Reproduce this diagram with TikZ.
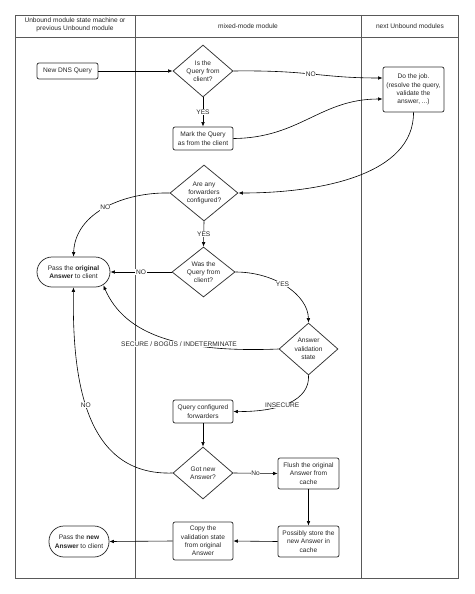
\documentclass[tikz,border=0pt]{standalone}
\usepackage{fontspec}
\setmainfont{Liberation Sans}
\usetikzlibrary{shapes.geometric,arrows.meta}
\begin{document}
\begin{tikzpicture}[x=1pt,y=-1pt,
  every node/.style={font=\fontsize{6.6}{8.3}\selectfont, text=black!85},
  frame/.style={draw=black!65, line width=0.9pt},
  box/.style={draw=black!80, line width=0.75pt, rounded corners=2pt, align=center, inner sep=1pt},
  stad/.style={draw=black!80, line width=0.75pt, rounded corners=15pt, align=center, inner sep=1pt},
  dia/.style={draw=black!80, line width=0.75pt, diamond, inner sep=0pt},
  dtext/.style={align=center, inner sep=0pt},
  conn/.style={draw=black, line width=0.6pt, -{Latex[length=4.5pt,width=3.6pt]}},
  lbl/.style={fill=white, inner sep=0.6pt}
]
\useasboundingbox (0,0) rectangle (474,594);
% frame
\draw[frame] (15,15) rectangle (458,578);
\draw[frame] (15,37) -- (458,37);
\draw[frame] (135,15) -- (135,578);
\draw[frame] (361,15) -- (361,578);
\node[align=center] (h1) at (75,25) {Unbound module state machine or\\previous Unbound module};
\node (h2) at (248,26) {mixed-mode module};
\node (h3) at (410,26) {next Unbound modules};

% nodes
\node[box, minimum width=61pt, minimum height=16pt] (newq) at (67.5,71) {New DNS Query};
\node[dia, minimum width=60pt, minimum height=52pt, label={[dtext]center:Is the\\Query from\\client?}] (d1) at (203,71) {};
\node[box, minimum width=60pt, minimum height=23pt] (mark) at (203,138.5) {Mark the Query\\as from the client};
\node[box, minimum width=61pt, minimum height=45pt] (job) at (413.5,89.5) {Do the job.\\(resolve the query,\\validate the\\answer, ...)};
\node[dia, minimum width=68pt, minimum height=56pt, label={[dtext]center:Are any\\forwarders\\configured?}] (d2) at (204,193) {};
\node[dia, minimum width=63pt, minimum height=50pt, label={[dtext]center:Was the\\Query from\\client?}] (d3) at (203.5,272) {};
\node[stad, minimum width=73pt, minimum height=30pt] (pass) at (73.5,272) {Pass the \textbf{original}\\\textbf{Answer} to client};
\node[dia, minimum width=59pt, minimum height=52pt, label={[dtext]center:Answer\\validation\\state}] (d4) at (308.5,349) {};
\node[box, minimum width=60pt, minimum height=23pt] (qcf) at (203,411.5) {Query configured\\forwarders};
\node[dia, minimum width=60pt, minimum height=52pt, label={[dtext]center:Got new\\Answer?}] (d5) at (203,473) {};
\node[box, minimum width=61pt, minimum height=31pt] (flush) at (308.5,473.5) {Flush the original\\Answer from\\cache};
\node[box, minimum width=61pt, minimum height=31pt] (store) at (308.5,541.5) {Possibly store the\\new Answer in\\cache};
\node[box, minimum width=60pt, minimum height=38pt] (copy) at (203,541) {Copy the\\validation state\\from original\\Answer};
\node[stad, minimum width=60pt, minimum height=31pt] (passnew) at (79,541.5) {Pass the \textbf{new}\\\textbf{Answer} to client};

% connectors
\draw[conn] (newq.east) -- (d1.west);
\draw[conn] (d1.east) .. controls (310,70) and (320,78) .. node[lbl, pos=0.48] {NO} ([yshift=11.5pt]job.west);
\draw[conn] (d1.south) -- node[lbl] {YES} (mark.north);
\draw[conn] (mark.east) .. controls (300,138) and (320,99) .. ([yshift=-9.5pt]job.west);
\draw[conn] (job.south) .. controls (414,175) and (320,193) .. (d2.east);
\draw[conn] (d2.south) -- node[lbl] {YES} (d3.north);
\draw[conn] (d2.west) .. controls (125,192) and (75,212) .. node[lbl] {NO} (pass.north);
\draw[conn] (d3.west) -- node[lbl] {NO} (pass.east);
\draw[conn] (d3.east) .. controls (275,272) and (308,295) .. node[lbl, pos=0.45] {YES} (d4.north);
\draw[conn] (d4.west) .. controls (180,353) and (125,335) .. ([xshift=-7pt,yshift=2pt]pass.south east) node[lbl] at (179,344) {SECURE / BOGUS / INDETERMINATE};
\draw[conn] (d4.south) .. controls (310,400) and (280,412) .. node[lbl, pos=0.58] {INSECURE} (qcf.east);
\draw[conn] (qcf.south) -- (d5.north);
\draw[conn] (d5.west) .. controls (85,476) and (72,380) .. node[lbl, pos=0.55] {NO} (pass.south);
\draw[conn] (d5.east) -- node[lbl] {No} (flush.west);
\draw[conn] (flush.south) -- (store.north);
\draw[conn] (store.west) -- (copy.east);
\draw[conn] (copy.west) -- (passnew.east);
\end{tikzpicture}
\end{document}
